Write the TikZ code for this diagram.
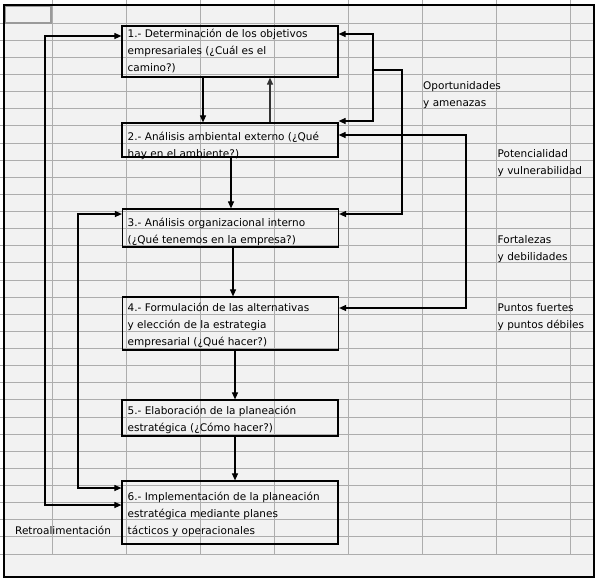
\documentclass[tikz,border=0pt]{standalone}
\usepackage{fontspec}
\setmainfont{DejaVu Sans}
\usetikzlibrary{arrows.meta}
\definecolor{cellbg}{HTML}{F2F2F2}
\definecolor{gridc}{HTML}{ADADAD}
\definecolor{selc}{HTML}{9A9A9A}
\begin{document}
\begin{tikzpicture}[x=1pt,y=-1pt,
  box/.style={draw=black, line width=1.2pt, rectangle, inner sep=0pt, minimum width=216pt},
  txt/.style={anchor=base west, inner sep=0pt, font=\fontsize{10.5}{12}\selectfont},
  conn/.style={line width=1.1pt, draw=black},
  tipend/.style={-{Triangle[length=7pt,width=6pt]}},
  tipboth/.style={{Triangle[length=7pt,width=6pt]}-{Triangle[length=7pt,width=6pt]}},
  ]
\useasboundingbox (0,0) rectangle (599,582);
% sheet background and grid
\fill[cellbg] (4,5) rectangle (594,577);
\foreach \k in {1,...,32} \draw[gridc, line width=1pt] (0,{6+17.125*\k}) -- (594,{6+17.125*\k});
\foreach \x in {52,126.1,200.2,274.3,348.4,422.5,496.6,570.7} \draw[gridc, line width=1pt] (\x,0) -- (\x,554);
\draw[selc, line width=1.6pt] (5.5,6.5) rectangle (51,23);
\draw[black, line width=2.2pt] (4,5) rectangle (594,577);
% boxes
\node[box, minimum height=51pt] (b1) at (230,51.5) {};
\node[box, minimum height=34pt] (b2) at (230,140) {};
\node[box, minimum height=38pt] (b3) at (230.5,228) {};
\node[box, minimum height=53pt] (b4) at (230.5,323.5) {};
\node[box, minimum height=36pt] (b5) at (230,418) {};
\node[box, minimum height=63pt] (b6) at (230,512.5) {};
% box texts
\node[txt] (t1a) at (127.5,37.65) {1.- Determinación de los objetivos};
\node[txt] (t1b) at (127.5,54.8) {empresariales (¿Cuál es el};
\node[txt] (t1c) at (127.5,71.9) {camino?)};
\node[txt] (t2a) at (127.5,140.4) {2.- Análisis ambiental externo (¿Qué};
\node[txt] (t2b) at (127.5,157.5) {hay en el ambiente?)};
\node[txt] (t3a) at (127.5,226) {3.- Análisis organizacional interno};
\node[txt] (t3b) at (127.5,243.15) {(¿Qué tenemos en la empresa?)};
\node[txt] (t4a) at (127.5,311.65) {4.- Formulación de las alternativas};
\node[txt] (t4b) at (127.5,328.8) {y elección de la estrategia};
\node[txt] (t4c) at (127.5,345.9) {empresarial (¿Qué hacer?)};
\node[txt] (t5a) at (127.5,414.4) {5.- Elaboración de la planeación};
\node[txt] (t5b) at (127.5,431.5) {estratégica (¿Cómo hacer?)};
\node[txt] (t6a) at (127.5,500) {6.- Implementación de la planeación};
\node[txt] (t6b) at (127.5,517.15) {estratégica mediante planes};
\node[txt] (t6c) at (127.5,534.3) {tácticos y operacionales};
% side labels
\node[txt] (l1a) at (423,89) {Oportunidades};
\node[txt] (l1b) at (423,106.15) {y amenazas};
\node[txt] (l2a) at (497.5,157.5) {Potencialidad};
\node[txt] (l2b) at (497.5,174.65) {y vulnerabilidad};
\node[txt] (l3a) at (497.5,243.15) {Fortalezas};
\node[txt] (l3b) at (497.5,260.3) {y debilidades};
\node[txt] (l4a) at (497.5,311.65) {Puntos fuertes};
\node[txt] (l4b) at (497.5,328.8) {y puntos débiles};
\node[txt] (l5) at (15,534.3) {Retroalimentación};
% vertical flow arrows
\draw[conn, tipend] (b1.south -| 203,0) -- (b2.north -| 203,0);
\draw[conn, tipend, draw=black!80] (b2.north -| 270,0) -- (b1.south -| 270,0);
\draw[conn, tipend] (b2.south -| 231,0) -- (b3.north -| 231,0);
\draw[conn, tipend] (b3.south -| 233,0) -- (b4.north -| 233,0);
\draw[conn, tipend] (b4.south -| 235,0) -- (b5.north -| 235,0);
\draw[conn, tipend] (b5.south -| 235,0) -- (b6.north -| 235,0);
% left feedback loops
\draw[conn, tipboth] (b1.west |- 0,36) -- (45,36) -- (45,505) -- (b6.west |- 0,505);
\draw[conn, tipboth] (b3.west |- 0,214) -- (78,214) -- (78,488) -- (b6.west |- 0,488);
% right connectors
\coordinate (j1) at (373,70);
\draw[conn, tipboth] (b1.east |- 0,34) -- (373,34) -- (373,121) -- (b2.east |- 0,121);
\draw[conn, tipend] (j1) -- (402,70) -- (402,214) -- (b3.east |- 0,214);
\draw[conn, tipboth] (b2.east |- 0,135) -- (466,135) -- (466,308) -- (b4.east |- 0,308);
\end{tikzpicture}
\end{document}
